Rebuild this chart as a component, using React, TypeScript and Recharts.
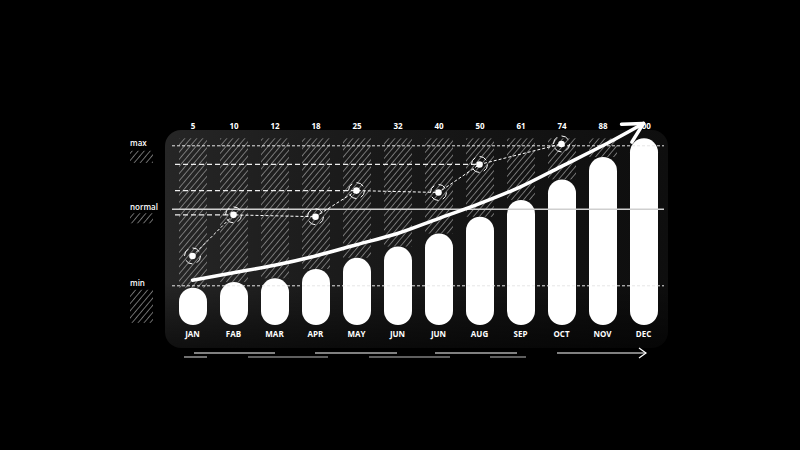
import React from 'react';
import { ComposedChart, Bar, Line, XAxis, YAxis, ReferenceLine, LabelList } from 'recharts';

const months = ['JAN', 'FAB', 'MAR', 'APR', 'MAY', 'JUN', 'JUN', 'AUG', 'SEP', 'OCT', 'NOV', 'DEC'];
const scores = [5, 10, 12, 18, 25, 32, 40, 50, 61, 74, 88, 100];
const barValues = [20, 23, 25, 30, 36, 42, 49, 58, 67, 78, 90, 100];
const markerValues = [37, 59, null, 58, 72, null, 71, 86, null, 97, null, null];
const growthValues = [24, 28, 32, 37, 43, 49, 57, 65, 74, 85, 96, 108];
const guideMonths = [1, 4, 7];
const levelNames = ['max', 'normal', 'min'];
const levelValues = [96, 62, 21];

const data = months.map((month, i) => ({
  month,
  score: scores[i],
  value: barValues[i],
  rest: 100 - barValues[i],
  marker: markerValues[i],
  growth: growthValues[i],
  guide: guideMonths.includes(i),
}));

const FONT = '"Open Sans", "DejaVu Sans", sans-serif';
const MARGIN = { top: 101, right: 136, bottom: 105, left: 172 };
// hatched swatch under each level label: [offset below line, height]
const SWATCH = { max: [5, 12], normal: [4, 10], min: [4, 33] } as Record<string, number[]>;

const Pill = (p: any) => {
  const { x, y, width, height } = p;
  if (!height || height <= 0) return null;
  const r = Math.min(width / 2, height / 2);
  return <rect x={x} y={y} width={width} height={height} rx={r} ry={r} fill="#fff" />;
};

const Hatch = (p: any) => {
  const { x, y, width, height } = p;
  if (!height || height <= 0) return null;
  return <rect x={x} y={y} width={width} height={height} fill="url(#hatch)" />;
};

const MarkerDot = (p: any) => {
  const { cx, cy, payload, index } = p;
  if (payload.marker == null || cx == null) return <g key={index} />;
  return (
    <g key={index}>
      {payload.guide && (
        <line x1={MARGIN.left + 3} y1={cy} x2={cx} y2={cy} stroke="#eee" strokeWidth={1.2} strokeDasharray="5 3" />
      )}
      <circle cx={cx} cy={cy} r={8} fill="none" stroke="#fff" strokeWidth={1} strokeDasharray="8 4.5" />
      <circle cx={cx} cy={cy} r={3.3} fill="#fff" />
    </g>
  );
};

const ArrowDot = (p: any) => {
  const { cx, cy, index } = p;
  if (index !== months.length - 1) return <g key={index} />;
  const back = (150 * Math.PI) / 180;
  const spread = (28 * Math.PI) / 180;
  const len = 22;
  const a1 = back - spread;
  const a2 = back + spread;
  return (
    <g key={index}>
      <polyline
        points={`${cx + len * Math.cos(a1)},${cy + len * Math.sin(a1)} ${cx},${cy} ${cx + len * Math.cos(a2)},${cy + len * Math.sin(a2)}`}
        fill="none"
        stroke="#fff"
        strokeWidth={3.5}
        strokeLinecap="round"
        strokeLinejoin="round"
      />
    </g>
  );
};

const MonthTick = (p: any) => {
  const { x, y, payload } = p;
  return (
    <text x={x} y={y + 8} textAnchor="middle" fill="#fff" fontSize={8} fontWeight={700} fontFamily={FONT}>
      {payload.value}
    </text>
  );
};

const levelLabel = (name: string) => (props: any) => {
  const vb = props.viewBox || {};
  const y = vb.y;
  const [off, h] = SWATCH[name];
  return (
    <g>
      <text x={130} y={y + 0.5} fill="#fff" fontSize={8} fontWeight={600} fontFamily={FONT}>
        {name}
      </text>
      <rect x={130} y={y + off} width={23} height={h} fill="url(#hatch)" />
    </g>
  );
};

const decor = [
  { y: 353, x1: 194, x2: 275, c: '#fff' },
  { y: 357, x1: 184, x2: 207, c: '#bbb' },
  { y: 357, x1: 248, x2: 328, c: '#bbb' },
  { y: 353, x1: 315, x2: 397, c: '#fff' },
  { y: 357, x1: 369, x2: 450, c: '#bbb' },
  { y: 353, x1: 435, x2: 517, c: '#fff' },
  { y: 357, x1: 490, x2: 526, c: '#bbb' },
  { y: 353, x1: 557, x2: 646, c: '#fff' },
];

export default function App() {
  return (
    <div style={{ position: 'relative', width: 800, height: 450, background: '#000', overflow: 'hidden' }}>
      <style>{'body{margin:0;background:#000}'}</style>
      <svg width={0} height={0} style={{ position: 'absolute' }}>
        <defs>
          <pattern id="hatch" patternUnits="userSpaceOnUse" width={4.6} height={4.6} patternTransform="rotate(40)">
            <line x1={0} y1={0} x2={0} y2={4.6} stroke="#9a9a9a" strokeWidth={1.4} />
          </pattern>
        </defs>
      </svg>
      <div
        style={{
          position: 'absolute',
          left: 165,
          top: 130,
          width: 503,
          height: 218,
          borderRadius: 16,
          background:
            'linear-gradient(180deg, rgba(0,0,0,0) 0%, rgba(0,0,0,0) 70%, rgba(0,0,0,0.6) 100%), linear-gradient(90deg, #262626 0%, #1c1c1c 30%, #141414 65%, #0e0e0e 100%)',
        }}
      />
      <div style={{ position: 'absolute', left: 0, top: 0 }}>
        <ComposedChart width={800} height={450} data={data} margin={MARGIN} barCategoryGap={13}>
          <XAxis
            dataKey="month"
            height={20}
            axisLine={false}
            tickLine={false}
            tickSize={0}
            tickMargin={4}
            interval={0}
            tick={<MonthTick />}
          />
          <YAxis hide domain={[0, 120]} />
          {levelNames.map((name, i) => (
            <ReferenceLine
              key={name}
              y={levelValues[i]}
              stroke={name === 'normal' ? '#cfcfcf' : '#e6e6e6'}
              strokeWidth={name === 'normal' ? 1.3 : 1}
              strokeDasharray={name === 'normal' ? undefined : '3 2'}
              label={levelLabel(name)}
            />
          ))}
          <Bar dataKey="value" stackId="a" barSize={28} shape={<Pill />} isAnimationActive={false} />
          <Bar dataKey="rest" stackId="a" barSize={28} shape={<Hatch />} isAnimationActive={false}>
            <LabelList dataKey="score" position="top" offset={9} fill="#fff" fontSize={8} fontWeight={700} fontFamily={FONT} />
          </Bar>
          <Line
            dataKey="marker"
            connectNulls
            stroke="#fff"
            strokeWidth={1}
            strokeDasharray="3 2"
            dot={<MarkerDot />}
            activeDot={false}
            isAnimationActive={false}
          />
          <Line
            dataKey="growth"
            type="monotone"
            stroke="#fff"
            strokeWidth={3.5}
            strokeLinecap="round"
            dot={<ArrowDot />}
            activeDot={false}
            isAnimationActive={false}
          />
        </ComposedChart>
      </div>
      <svg width={800} height={450} style={{ position: 'absolute', left: 0, top: 0, pointerEvents: 'none' }}>
        {decor.map((d, i) => (
          <line key={i} x1={d.x1} y1={d.y} x2={d.x2} y2={d.y} stroke={d.c} strokeWidth={1.2} />
        ))}
        <polyline points="639,348 646,353 639,358" fill="none" stroke="#fff" strokeWidth={1.2} />
      </svg>
    </div>
  );
}
